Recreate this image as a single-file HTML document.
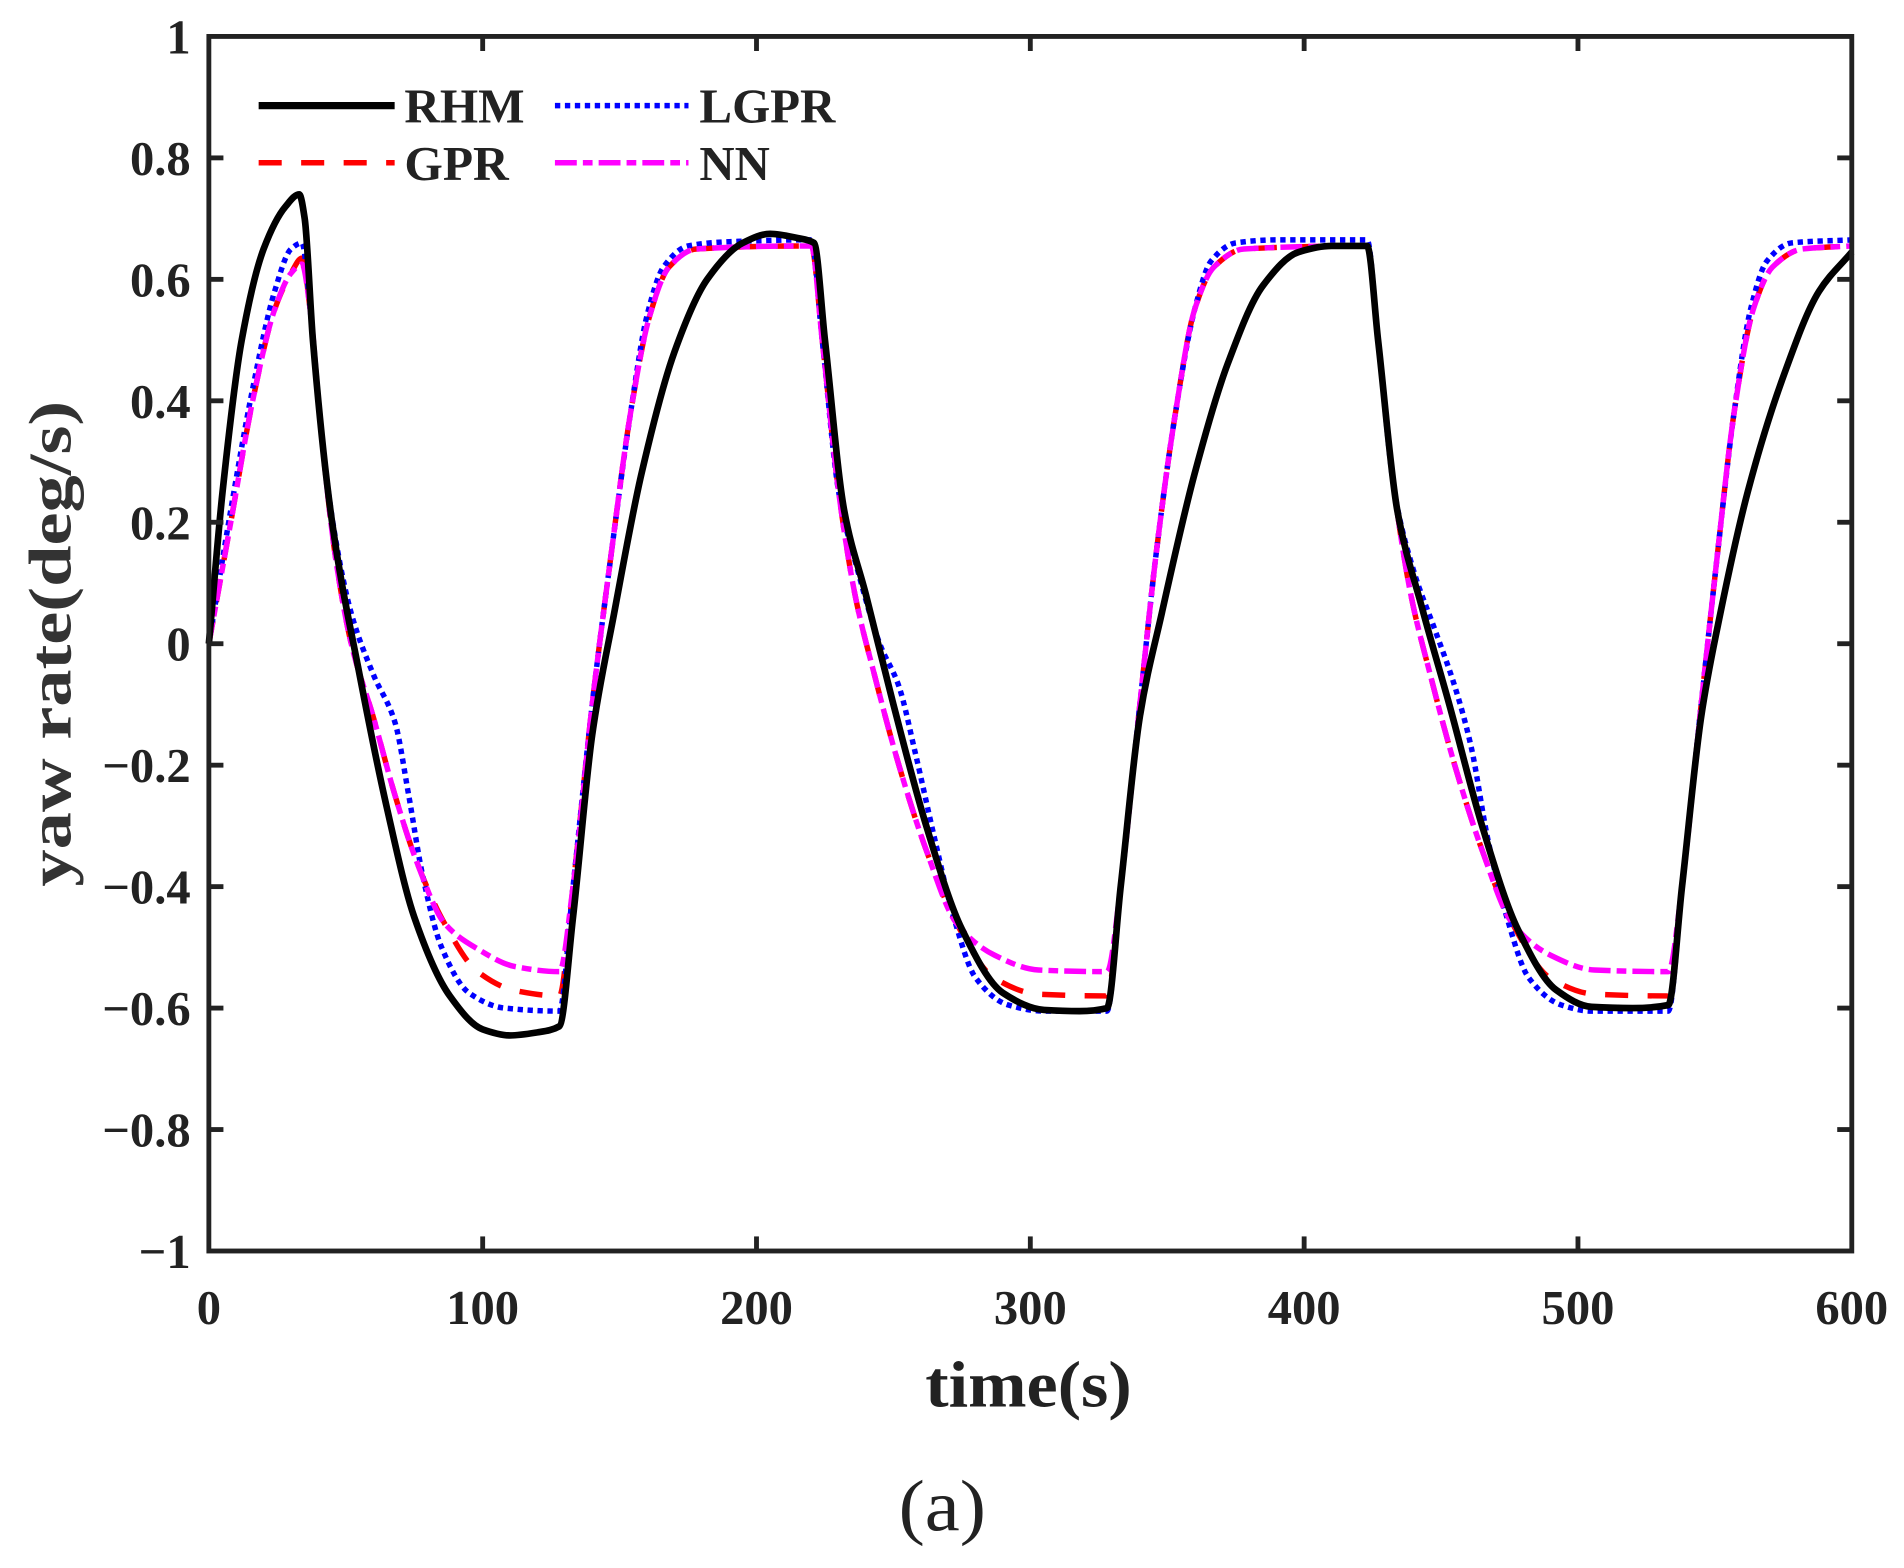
<!DOCTYPE html>
<html><head><meta charset="utf-8"><style>
html,body{margin:0;padding:0;background:#fff;}
svg{display:block;}
text{font-family:"Liberation Serif","Times New Roman",Times,serif;font-weight:bold;fill:#222;}
</style></head><body>
<svg id="s" width="1904" height="1568" viewBox="0 0 1568 1291" preserveAspectRatio="none" xmlns="http://www.w3.org/2000/svg">
<rect width="1568" height="1291" fill="#fff"/>
<g id="curves" fill="none" stroke-linejoin="round"></g>
<rect x="172" y="30" width="1353" height="1000" fill="none" stroke="#222" stroke-width="4"/>
<g id="ticks" stroke="#222" stroke-width="4"></g>
<g id="labels" font-size="40"></g>
<text x="58" y="530" font-size="50" text-anchor="middle" textLength="400" lengthAdjust="spacingAndGlyphs" transform="rotate(-90 58 530)" style="fill:#333">yaw rate(deg/s)</text>
<text x="847" y="1158" font-size="54" text-anchor="middle" textLength="170" lengthAdjust="spacingAndGlyphs">time(s)</text>
<text x="776" y="1260" font-size="60" text-anchor="middle" textLength="72" lengthAdjust="spacingAndGlyphs" style="font-weight:normal">(a)</text>
<g font-size="40">
<line x1="213" y1="87" x2="325" y2="87" stroke="#000" stroke-width="6"/>
<text x="333" y="101" textLength="99" lengthAdjust="spacingAndGlyphs">RHM</text>
<line x1="457" y1="87" x2="567" y2="87" stroke="#0000ff" stroke-width="4.5" stroke-dasharray="4.4 3.8"/>
<text x="576" y="101" textLength="112" lengthAdjust="spacingAndGlyphs">LGPR</text>
<line x1="213" y1="134" x2="325" y2="134" stroke="#ff0000" stroke-width="4.5" stroke-dasharray="19 16"/>
<text x="333" y="148" textLength="86" lengthAdjust="spacingAndGlyphs">GPR</text>
<line x1="457" y1="134" x2="567" y2="134" stroke="#ff00ff" stroke-width="4.5" stroke-dasharray="18 5 8 5"/>
<text x="576" y="148" textLength="58" lengthAdjust="spacingAndGlyphs">NN</text>
</g>
</svg>
<script>
const X=t=>172+t*1353/600, Y=v=>530-v*500;
const NS="http://www.w3.org/2000/svg";
function el(p,n,a){const e=document.createElementNS(NS,n);for(const k in a)e.setAttribute(k,a[k]);p.appendChild(e);return e;}
const tk=document.getElementById('ticks'),lb=document.getElementById('labels');
for(let i=0;i<=6;i++){const x=X(i*100);
 if(i>0&&i<6){el(tk,'line',{x1:x,y1:1030,x2:x,y2:1018});el(tk,'line',{x1:x,y1:30,x2:x,y2:42});}
 el(lb,'text',{x:x,y:1090,'text-anchor':'middle'}).textContent=String(i*100);}
for(let i=-5;i<=5;i++){const v=i/5,y=Y(v);
 if(i>-5&&i<5){el(tk,'line',{x1:172,y1:y,x2:184,y2:y});el(tk,'line',{x1:1525,y1:y,x2:1513,y2:y});}
 let s=(i==0)?'0':(i==5?'1':(i==-5?'\u22121':(v<0?'\u2212':'')+Math.abs(v).toFixed(1)));
 el(lb,'text',{x:157,y:y+14,'text-anchor':'end'}).textContent=s;}
function path(pts){
 const n=pts.length,xs=pts.map(p=>p[0]),ys=pts.map(p=>p[1]);
 const d=[],m=new Array(n);
 for(let i=0;i<n-1;i++)d.push((ys[i+1]-ys[i])/(xs[i+1]-xs[i]));
 m[0]=d[0];m[n-1]=d[n-2];
 for(let i=1;i<n-1;i++){ if(d[i-1]*d[i]<=0)m[i]=0; else {const w1=2*(xs[i+1]-xs[i])+(xs[i]-xs[i-1]),w2=(xs[i+1]-xs[i])+2*(xs[i]-xs[i-1]);m[i]=(w1+w2)/(w1/d[i-1]+w2/d[i]);}}
 let s='M'+X(xs[0])+' '+Y(ys[0]);
 for(let i=0;i<n-1;i++){const h=xs[i+1]-xs[i];
  s+=` C${X(xs[i]+h/3)} ${Y(ys[i]+m[i]*h/3)} ${X(xs[i+1]-h/3)} ${Y(ys[i+1]-m[i+1]*h/3)} ${X(xs[i+1])} ${Y(ys[i+1])}`;}
 return s;}
const g=document.getElementById('curves');
const rhm=[[0,0],[5,0.25],[12,0.5],[20,0.65],[28,0.72],[33,0.74],[35,0.7],[38,0.5],[45,0.2],[55,-0.05],[65,-0.27],[75,-0.45],[88,-0.58],[100,-0.635],[110,-0.645],[120,-0.64],[128,-0.63],[133,-0.45],[140,-0.15],[148,0.05],[158,0.28],[170,0.48],[182,0.6],[195,0.66],[205,0.675],[215,0.668],[221,0.66],[225,0.5],[232,0.22],[240,0.08],[250,-0.1],[262,-0.3],[275,-0.47],[290,-0.575],[305,-0.603],[318,-0.605],[328,-0.6],[333,-0.4],[340,-0.12],[348,0.05],[360,0.28],[372,0.46],[385,0.59],[398,0.645],[410,0.655],[423,0.655],[427,0.5],[434,0.22],[443,0.06],[453,-0.1],[465,-0.3],[478,-0.47],[492,-0.57],[505,-0.598],[520,-0.6],[533,-0.595],[538,-0.4],[545,-0.12],[552,0.05],[562,0.25],[575,0.44],[588,0.58],[600,0.645]];
const lgpr=[[0,0],[8,0.22],[16,0.42],[24,0.58],[30,0.65],[34,0.66],[37,0.55],[41,0.35],[46,0.18],[52,0.05],[60,-0.05],[68,-0.13],[73,-0.25],[78,-0.38],[85,-0.5],[95,-0.575],[108,-0.6],[128,-0.605],[133,-0.4],[140,-0.1],[147,0.15],[154,0.38],[160,0.54],[166,0.62],[175,0.655],[190,0.662],[220,0.665],[224,0.5],[230,0.25],[237,0.12],[245,0.0],[252,-0.07],[258,-0.18],[265,-0.32],[272,-0.45],[280,-0.55],[292,-0.595],[305,-0.605],[328,-0.605],[333,-0.4],[340,-0.1],[346,0.15],[353,0.38],[360,0.55],[366,0.63],[375,0.66],[390,0.665],[423,0.665],[427,0.5],[433,0.25],[440,0.12],[448,0.02],[455,-0.07],[461,-0.17],[467,-0.32],[474,-0.45],[482,-0.55],[494,-0.595],[505,-0.605],[533,-0.605],[538,-0.4],[545,-0.1],[551,0.15],[557,0.38],[563,0.55],[569,0.63],[578,0.66],[600,0.665]];
function lowpath(floor,peak){return [[0,0],[8,0.2],[16,0.4],[24,0.55],[30,0.61],[34,peak],[37,0.55],[41,0.35],[46,0.15],[52,0.0],[60,-0.12],[68,-0.25],[76,-0.36],[86,-0.46],[98,floor*0.93],[112,floor*0.985],[128,floor],[133,-0.4],[140,-0.1],[147,0.15],[154,0.38],[161,0.54],[168,0.62],[178,0.65],[220,0.655],[224,0.5],[230,0.25],[236,0.08],[243,-0.05],[252,-0.2],[262,-0.34],[273,-0.46],[287,floor*0.95],[303,floor*0.995],[328,floor],[333,-0.4],[340,-0.1],[346,0.15],[353,0.38],[360,0.55],[367,0.62],[378,0.65],[423,0.655],[427,0.5],[433,0.25],[439,0.08],[446,-0.05],[455,-0.2],[465,-0.34],[476,-0.46],[490,floor*0.95],[506,floor*0.995],[533,floor],[538,-0.4],[545,-0.1],[551,0.15],[557,0.38],[564,0.55],[571,0.62],[582,0.65],[600,0.655]];}
el(g,'path',{d:path(lowpath(-0.58,0.635)),stroke:'#ff0000','stroke-width':4.5,'stroke-dasharray':'19 16'});
el(g,'path',{d:path(lgpr),stroke:'#0000ff','stroke-width':4.5,'stroke-dasharray':'4.4 3.8'});
el(g,'path',{d:path(lowpath(-0.54,0.625)),stroke:'#ff00ff','stroke-width':4.5,'stroke-dasharray':'18 5 8 5'});
el(g,'path',{d:path(rhm),stroke:'#000','stroke-width':5.5});
</script>
</body></html>
